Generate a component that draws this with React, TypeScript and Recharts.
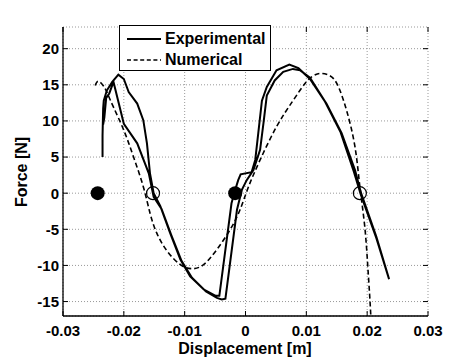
import { ComposedChart, Line, Scatter, XAxis, YAxis, CartesianGrid, Legend } from 'recharts';

// displacement [m] / force [N]
const expX = [
  -0.0235, -0.0235, -0.0234, -0.0233, -0.0228, -0.0219, -0.0209, -0.02, -0.0192, -0.0178,
  -0.0168, -0.0162, -0.0157, -0.0151, -0.014, -0.0124, -0.0107, -0.0091, -0.0069, -0.0049,
  -0.0043, -0.0023, -0.0017, -0.0012, -0.0008, 0.001, 0.0016, 0.0021, 0.0027, 0.0035,
  0.0051, 0.0072, 0.0087, 0.0106, 0.0133, 0.0158, 0.018, 0.019, 0.0215, 0.0236,
  0.0215, 0.019, 0.0178, 0.0156, 0.013, 0.0106, 0.009, 0.0078, 0.0062, 0.0048,
  0.0035, 0.003, 0.0024, 0.0013, 0.0002, -0.0006, -0.0014, -0.0033, -0.0039, -0.0047,
  -0.0065, -0.0088, -0.0105, -0.0122, -0.0138, -0.0151, -0.0159, -0.0178, -0.02, -0.0217,
  -0.0224, -0.0229, -0.0232, -0.0234,
];
const expY = [
  5, 8, 11.7, 12.8, 14.2, 15.4, 16.4, 15.8, 14, 12.4,
  10.1, 6.9, 2.75, 0, -1.8, -5.5, -9.2, -11.5, -13.3, -14.2,
  -14.2, -1.4, 0.45, 1.8, 2.6, 2.9, 4.6, 8.3, 12.8, 14.7,
  17, 17.8, 17.3, 15.8, 12.4, 8.3, 3.2, 0, -6, -11.9,
  -6.2, -0.3, 3, 8.5, 12.8, 16, 17, 17.2, 16.8, 15.6,
  13.5, 10, 6, 3.2, 1.8, 0.45, -2.3, -14.6, -14.7, -14.5,
  -13.6, -11.7, -9.4, -5.8, -2.2, -0.5, 2.75, 6.9, 9.6, 15.4,
  13.8, 13.2, 10.5, 9.5,
];

const numX = [
  -0.0247, -0.0242, -0.0234, -0.0228, -0.0217, -0.02, -0.0184, -0.0168, -0.0157, -0.0146,
  -0.0129, -0.0107, -0.0088, -0.0069, -0.0047, -0.0025, -0.0009, 0.0005, 0.0024, 0.0051,
  0.0078, 0.01, 0.0118, 0.0135, 0.015, 0.0166, 0.018, 0.0188, 0.0196, 0.0201, 0.0204, 0.0206,
];
const numY = [
  14.9, 15.5, 14.9, 14, 11.9, 8.7, 5, 0.9, -2.75, -5.5,
  -8, -9.9, -10.45, -9.9, -7.8, -5, -2.3, 0.9, 4.6, 9.2,
  12.8, 15.4, 16.5, 16.4, 15.2, 11.5, 6.4, 0.9, -4.6, -10.1, -14, -17,
];

const filledX = [-0.0243, -0.0017];
const filledY = [0, 0];
const openX = [-0.0152, 0.0188];
const openY = [0, 0];

const xTicks = [-0.03, -0.02, -0.01, 0, 0.01, 0.02, 0.03];
const yTicks = [-15, -10, -5, 0, 5, 10, 15, 20];
const seriesNames = ['Experimental', 'Numerical'];

const zip = (xs: number[], ys: number[]) => xs.map((x, i) => ({ x, y: ys[i] }));
const experimental = zip(expX, expY);
const numerical = zip(numX, numY);
const filled = zip(filledX, filledY);
const open = zip(openX, openY);

const FONT = '"Liberation Sans", Arial, sans-serif';
const TOP = 27;
const BOTTOM = 316;
const LEFT = 63;
const RIGHT = 428;

const XTick = (props: any) => {
  const { x, y, payload } = props;
  return (
    <g>
      <line x1={x} x2={x} y1={BOTTOM} y2={BOTTOM - 5} stroke="#000" />
      <line x1={x} x2={x} y1={TOP} y2={TOP + 5} stroke="#000" />
      <text x={x} y={y} dy="0.71em" textAnchor="middle" fontFamily={FONT} fontWeight="bold" fontSize={15} fill="#000">
        {String(payload.value)}
      </text>
    </g>
  );
};

const YTick = (props: any) => {
  const { x, y, payload } = props;
  return (
    <g>
      <line x1={LEFT} x2={LEFT + 5} y1={y} y2={y} stroke="#000" />
      <line x1={RIGHT} x2={RIGHT - 5} y1={y} y2={y} stroke="#000" />
      <text x={x} y={y} dy="0.355em" textAnchor="end" fontFamily={FONT} fontWeight="bold" fontSize={15} fill="#000">
        {String(payload.value)}
      </text>
    </g>
  );
};

const LegendBox = () => (
  <div style={{ width: 150, height: 44, border: '1.3px solid #000', background: '#fff', fontFamily: FONT, fontWeight: 'bold', fontSize: 16, color: '#000' }}>
    {seriesNames.map((name, i) => (
      <div key={name} style={{ display: 'flex', alignItems: 'center', height: 21, marginTop: i === 0 ? 2 : 0 }}>
        <svg width={41} height={10} style={{ marginLeft: 7 }}>
          <line x1={0} x2={34} y1={5} y2={5} stroke="#000" strokeWidth={i === 0 ? 2 : 1.6} strokeDasharray={i === 0 ? undefined : '4 2.6'} />
        </svg>
        <span style={{ marginLeft: -3 }}>{name}</span>
      </div>
    ))}
  </div>
);

export default function App() {
  return (
    <div style={{ position: 'absolute', left: 0, top: 0, width: 474, height: 358, background: '#fff' }}>
      <ComposedChart width={474} height={358} margin={{ top: TOP, right: 46, bottom: 0, left: 0 }}>
        <CartesianGrid stroke="#999" strokeDasharray="1 2" />
        <XAxis dataKey="x" type="number" domain={[-0.03, 0.03]} ticks={xTicks} height={42} tickSize={0} tickMargin={9}
          tick={<XTick />} axisLine={{ stroke: '#000', strokeWidth: 1.3 }} tickLine={false} allowDataOverflow />
        <XAxis xAxisId="top" orientation="top" dataKey="x" type="number" domain={[-0.03, 0.03]} height={0}
          tick={false} tickLine={false} axisLine={{ stroke: '#000', strokeWidth: 1.3 }} />
        <YAxis dataKey="y" type="number" domain={[-17, 23]} ticks={yTicks} width={63} tickSize={0} tickMargin={4}
          tick={<YTick />} axisLine={{ stroke: '#000', strokeWidth: 1.3 }} tickLine={false} allowDataOverflow />
        <YAxis yAxisId="right" orientation="right" dataKey="y" type="number" domain={[-17, 23]} width={0}
          tick={false} tickLine={false} axisLine={{ stroke: '#000', strokeWidth: 1.3 }} />
        <Legend content={<LegendBox />} layout="horizontal" verticalAlign="middle" align="center"
          wrapperStyle={{ position: 'absolute', left: 119, top: 25, width: 'auto' }} />
        <Line data={experimental} dataKey="y" name={seriesNames[0]} type="linear" stroke="#000" strokeWidth={2}
          dot={false} activeDot={false} isAnimationActive={false} />
        <Line data={numerical} dataKey="y" name={seriesNames[1]} type="natural" stroke="#000" strokeWidth={1.6}
          strokeDasharray="5 3" dot={false} activeDot={false} isAnimationActive={false} />
        <Scatter data={filled} dataKey="y" isAnimationActive={false}
          shape={(p: any) => <circle cx={p.cx} cy={p.cy} r={7} fill="#000" />} />
        <Scatter data={open} dataKey="y" isAnimationActive={false}
          shape={(p: any) => <circle cx={p.cx} cy={p.cy} r={6.5} fill="none" stroke="#000" strokeWidth={1.2} />} />
      </ComposedChart>
      <svg width={474} height={358} style={{ position: 'absolute', left: 0, top: 0, pointerEvents: 'none' }}>
        <text x={21} y={172} transform="rotate(-90 21 172)" textAnchor="middle" dominantBaseline="central"
          fontFamily={FONT} fontWeight="bold" fontSize={16} fill="#000">Force [N]</text>
        <text x={245} y={348} textAnchor="middle" dominantBaseline="central"
          fontFamily={FONT} fontWeight="bold" fontSize={16} fill="#000">Displacement [m]</text>
      </svg>
    </div>
  );
}
